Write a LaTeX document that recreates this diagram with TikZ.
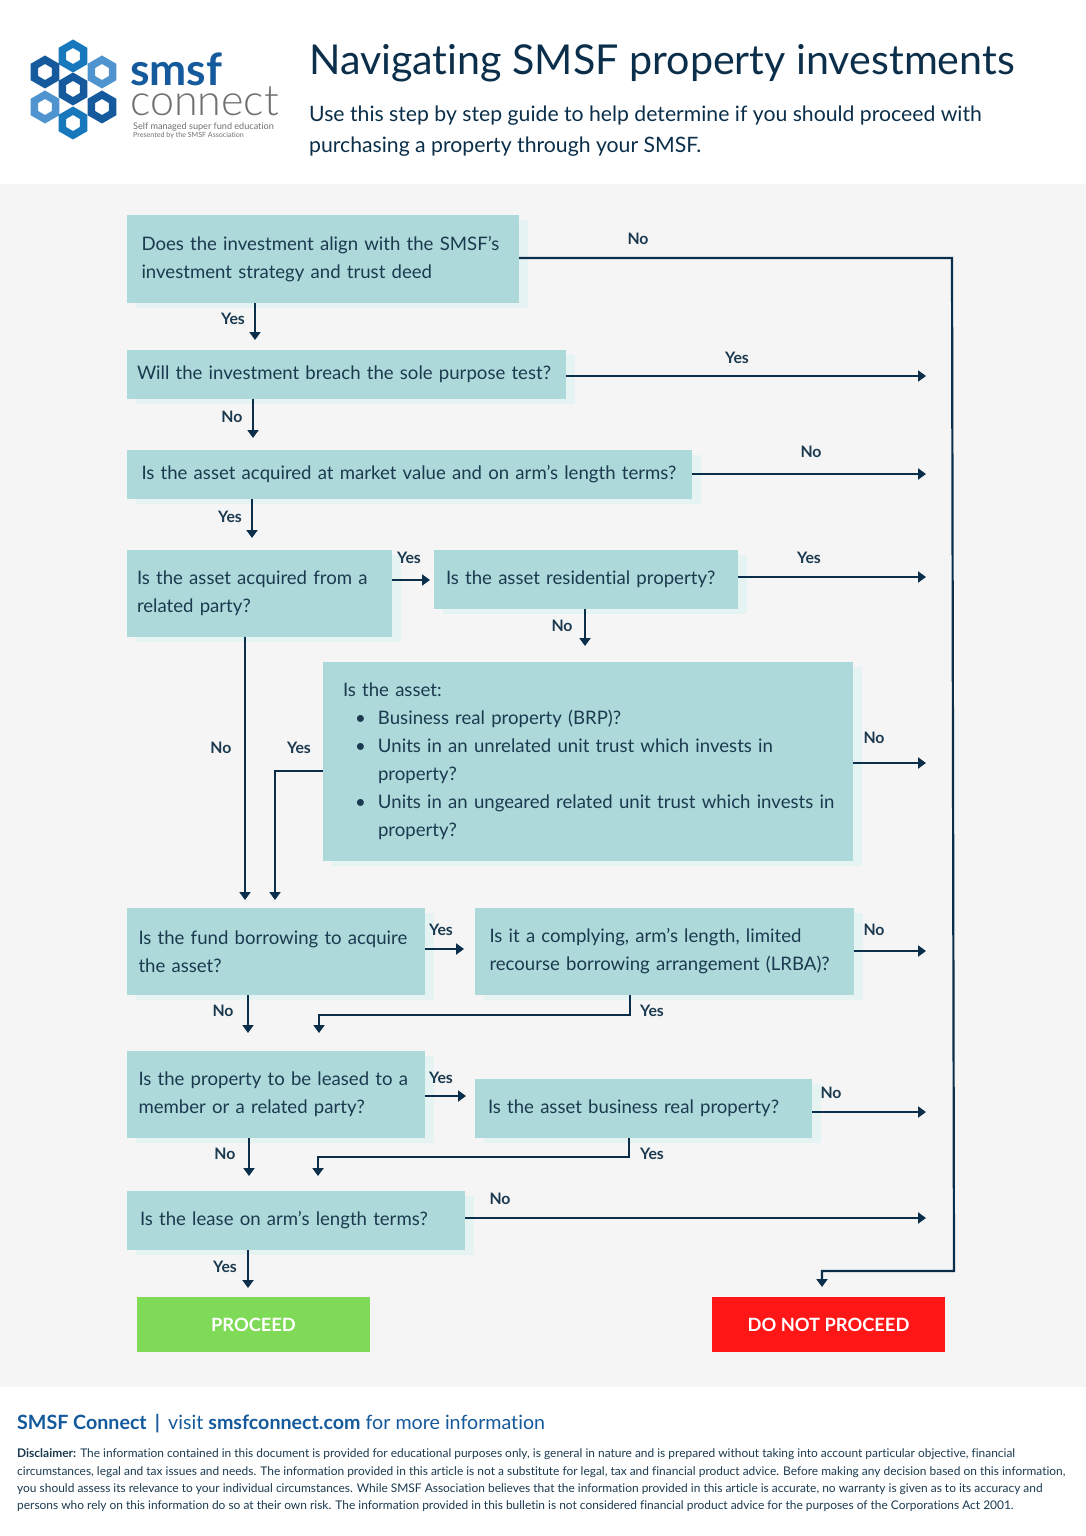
\documentclass[tikz,border=0pt]{standalone}
\usepackage{fontspec}
\setmainfont{Lato}[Ligatures=NoCommon]
\newfontfamily\lgfont{Lato Light}[Ligatures=NoCommon]
\usetikzlibrary{arrows.meta,calc}
\definecolor{bgc}{HTML}{F5F5F5}
\definecolor{boxc}{HTML}{ADD9DA}
\definecolor{shc}{HTML}{E6F3F3}
\definecolor{ink}{HTML}{0B2F4A}
\definecolor{txt}{HTML}{1B3A4F}
\definecolor{blueA}{HTML}{145A9C}
\definecolor{blueB}{HTML}{1878BC}
\definecolor{blueC}{HTML}{4F94CF}
\definecolor{grayL}{HTML}{6E7072}
\newcommand{\hexring}[4]{\fill[#4,even odd rule] (#1,#2) ++(90:#3) -- ++(-30:#3) -- ++(-90:#3) -- ++(-150:#3) -- ++(150:#3) -- ++(90:#3) -- cycle (#1,#2) ++(90:8) -- ++(-30:8) -- ++(-90:8) -- ++(-150:8) -- ++(150:8) -- ++(90:8) -- cycle;}
\newcommand{\tl}[1]{\makebox[0pt][l]{#1}}
% name, x1,y1,x2,y2, left pad, text
\newcommand{\qbox}[7]{%
  \fill[shc] (#2+9,#3+5) rectangle (#4+9,#5+5);
  \node[qstyle,minimum width=#4pt-#2pt,minimum height=#5pt-#3pt,text width=#4pt-#2pt-2*#6pt,inner xsep=#6pt] (#1) at ({(#2+#4)/2},{(#3+#5)/2}) {#7};}
\newcommand{\lab}[4]{\node[lbl] (#1) at (#2,#3) {#4};}
\tikzset{
  qstyle/.style={fill=boxc,text=txt,align=left,inner ysep=0pt,font=\fontsize{18.6}{28}\selectfont},
  conn/.style={draw=ink,line width=2.2pt,-{Triangle[width=11pt,length=8pt]}},
  lbl/.style={text=txt,inner sep=0pt,font=\fontsize{15.8}{18}\selectfont\bfseries},
  result/.style={text=white,inner sep=0pt,font=\fontsize{18.3}{24}\selectfont\bfseries},
  dis/.style={text=txt,anchor=base west,inner sep=0pt,font=\fontsize{11.94}{15}\selectfont},
}
\begin{document}
\begin{tikzpicture}[x=1pt,y=-1pt]
\useasboundingbox (0,0) rectangle (1086,1536);
\fill[white] (0,0) rectangle (1086,1536);
\fill[bgc] (0,184) rectangle (1086,1387);
% logo
\hexring{102}{72}{16.5}{blueC}
\hexring{45}{107}{16.5}{blueC}
\hexring{73}{56}{16.5}{blueB}
\hexring{73}{123}{16.5}{blueB}
\hexring{45}{72}{16.5}{blueA}
\hexring{102}{107}{16.5}{blueA}
\hexring{73}{89}{16.5}{blueA}
\node[inner sep=0pt,anchor=base west,text=blueA] (lgA) at (130,86) {\fontsize{44.4}{46}\selectfont\bfseries smsf};
\node[inner sep=0pt,anchor=base west,text=grayL] (lgB) at (130,116) {\lgfont\fontsize{43}{47}\selectfont connect};
\node[inner sep=0pt,anchor=base west,text=grayL] (lgC) at (133,129) {\fontsize{9.1}{11}\selectfont Self managed super fund education};
\node[inner sep=0pt,anchor=base west,text=grayL] (lgD) at (133,138) {\fontsize{7.1}{8}\selectfont Presented by the SMSF Association};
% heading
\node[inner sep=0pt,anchor=base west,text=ink] (title) at (309,75) {\fontsize{41.2}{48}\selectfont Navigating SMSF property investments};
\node[inner sep=0pt,anchor=base west,text=ink] (subA) at (309,122) {\fontsize{21.2}{30}\selectfont Use this step by step guide to help determine if you should proceed with};
\node[inner sep=0pt,anchor=base west,text=ink] (subB) at (309,153) {\fontsize{21.2}{30}\selectfont purchasing a property through your SMSF.};
% boxes
\qbox{b1}{127}{215}{519}{303}{14.5}{\tl{Does the investment align with the SMSF’s}\\\tl{investment strategy and trust deed}}
\qbox{b2}{127}{350}{566}{399}{10}{\tl{Will the investment breach the sole purpose test?}}
\qbox{b3}{127}{450}{692}{499}{14.5}{\tl{Is the asset acquired at market value and on arm’s length terms?}}
\qbox{b4}{127}{550}{392}{637}{10}{\tl{Is the asset acquired from a}\\\tl{related party?}}
\qbox{b5}{434}{550}{738}{609}{12}{\tl{Is the asset residential property?}}
\qbox{b6}{323}{662}{853}{861}{20}{\tl{Is the asset:}\\\tl{\hspace*{12pt}\makebox[23pt][l]{•}Business real property (BRP)?}\\\tl{\hspace*{12pt}\makebox[23pt][l]{•}Units in an unrelated unit trust which invests in}\\\tl{\hspace*{35pt}property?}\\\tl{\hspace*{12pt}\makebox[23pt][l]{•}Units in an ungeared related unit trust which invests in}\\\tl{\hspace*{35pt}property?}}
\qbox{b7}{127}{908}{425}{995}{11.5}{\tl{Is the fund borrowing to acquire}\\\tl{the asset?}}
\qbox{b8}{475}{908}{854}{995}{14.5}{\tl{Is it a complying, arm’s length, limited}\\\tl{recourse borrowing arrangement (LRBA)?}}
\qbox{b9}{127}{1051}{425}{1138}{11.5}{\tl{Is the property to be leased to a}\\\tl{member or a related party?}}
\qbox{b10}{475}{1079}{812}{1138}{13}{\tl{Is the asset business real property?}}
\qbox{b11}{127}{1191}{465}{1250}{13}{\tl{Is the lease on arm’s length terms?}}
\node[result,fill={rgb,255:red,127;green,219;blue,87},minimum width=233pt,minimum height=55pt] (go) at (253.5,1324.5) {PROCEED};
\node[result,fill={rgb,255:red,255;green,22;blue,22},minimum width=233pt,minimum height=55pt] (stop) at (828.5,1324.5) {DO NOT PROCEED};
% connector ends
\coordinate (e1) at (255,340);
\coordinate (e2) at (253,438);
\coordinate (e3) at (252,538);
\coordinate (e4) at (430,580);
\coordinate (e5) at (585,646);
\coordinate (e6) at (245,900);
\coordinate (e7) at (275,900);
\coordinate (e7a) at (275,771);
\coordinate (e8) at (926,763);
\coordinate (e9a) at (952,258);
\coordinate (e9b) at (954,1271);
\coordinate (e9c) at (822,1271);
\coordinate (e9) at (822,1287);
\coordinate (e10) at (926,376);
\coordinate (e11) at (926,474);
\coordinate (e12) at (926,577);
\coordinate (e13) at (464,949);
\coordinate (e14) at (926,951);
\coordinate (e15) at (248,1033);
\coordinate (e16a) at (630,1015);
\coordinate (e16b) at (319,1015);
\coordinate (e16) at (319,1033);
\coordinate (e17) at (466,1096);
\coordinate (e18) at (926,1112);
\coordinate (e19) at (249,1176);
\coordinate (e20a) at (629,1157);
\coordinate (e20b) at (318,1157);
\coordinate (e20) at (318,1176);
\coordinate (e21) at (926,1218);
\coordinate (e22) at (248,1288);
% connectors
\draw[conn] (b1.south -| e1) -- (e1);
\draw[conn] (b2.south -| e2) -- (e2);
\draw[conn] (b3.south -| e3) -- (e3);
\draw[conn] (b4.east |- e4) -- (e4);
\draw[conn] (b5.south -| e5) -- (e5);
\draw[conn] (b4.south -| e6) -- (e6);
\draw[conn] (b6.west |- e7a) -- (e7a) -- (e7);
\draw[conn] (b6.east |- e8) -- (e8);
\draw[conn] (b1.east |- e9a) -- (e9a) -- (e9b) -- (e9c) -- (e9);
\draw[conn] (b2.east |- e10) -- (e10);
\draw[conn] (b3.east |- e11) -- (e11);
\draw[conn] (b5.east |- e12) -- (e12);
\draw[conn] (b7.east |- e13) -- (e13);
\draw[conn] (b8.east |- e14) -- (e14);
\draw[conn] (b7.south -| e15) -- (e15);
\draw[conn] (b8.south -| e16a) -- (e16a) -- (e16b) -- (e16);
\draw[conn] (b9.east |- e17) -- (e17);
\draw[conn] (b10.east |- e18) -- (e18);
\draw[conn] (b9.south -| e19) -- (e19);
\draw[conn] (b10.south -| e20a) -- (e20a) -- (e20b) -- (e20);
\draw[conn] (b11.east |- e21) -- (e21);
\draw[conn] (b11.south -| e22) -- (e22);
% labels
\lab{l1}{233}{319}{Yes}
\lab{l2}{232}{417}{No}
\lab{l3}{230}{517}{Yes}
\lab{l4}{409}{558}{Yes}
\lab{l5}{562}{626}{No}
\lab{l6}{221}{748}{No}
\lab{l7}{299}{748}{Yes}
\lab{l8}{874}{738}{No}
\lab{l9}{638}{239}{No}
\lab{l10}{737}{358}{Yes}
\lab{l11}{811}{452}{No}
\lab{l12}{809}{558}{Yes}
\lab{l13}{441}{930}{Yes}
\lab{l14}{874}{930}{No}
\lab{l15}{223}{1011}{No}
\lab{l16}{652}{1011}{Yes}
\lab{l17}{441}{1078}{Yes}
\lab{l18}{831}{1093}{No}
\lab{l19}{225}{1154}{No}
\lab{l20}{652}{1154}{Yes}
\lab{l21}{500}{1199}{No}
\lab{l22}{225}{1267}{Yes}
% footer
\node[inner sep=0pt,anchor=base west,text=blueA] (foot) at (17,1429) {\fontsize{19.65}{26}\selectfont\textbf{SMSF Connect\, |} \,visit \textbf{smsfconnect.com} for more information};
\node[dis] (d1) at (17,1457.5) {\textbf{Disclaimer:} The information contained in this document is provided for educational purposes only, is general in nature and is prepared without taking into account particular objective, financial};
\node[dis] (d2) at (17,1475) {circumstances, legal and tax issues and needs. The information provided in this article is not a substitute for legal, tax and financial product advice. Before making any decision based on this information,};
\node[dis] (d3) at (17,1492) {you should assess its relevance to your individual circumstances. While SMSF Association believes that the information provided in this article is accurate, no warranty is given as to its accuracy and};
\node[dis] (d4) at (17,1509) {persons who rely on this information do so at their own risk. The information provided in this bulletin is not considered financial product advice for the purposes of the Corporations Act 2001.};
\end{tikzpicture}
\end{document}
